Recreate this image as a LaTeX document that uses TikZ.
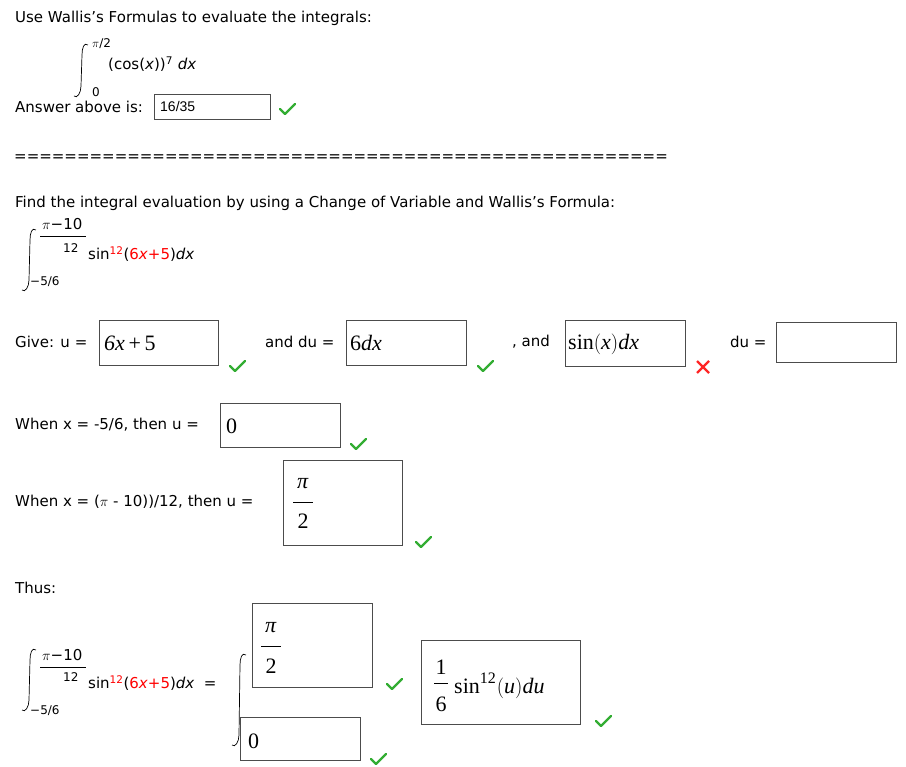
\documentclass[tikz,border=0pt]{standalone}
\usepackage{fontspec}
\setmainfont{DejaVu Sans}
\newfontfamily\serif{Liberation Serif}
\newfontfamily\boxfont{Liberation Sans}
\begin{document}
\begin{tikzpicture}[x=1pt,y=-1pt,
  txt/.style={anchor=west,inner sep=0,font=\fontsize{15}{17}\selectfont},
  sm/.style={anchor=west,inner sep=0,font=\fontsize{12}{14}\selectfont},
  ansbox/.style={draw=black!70,line width=0.8pt},
  big/.style={inner sep=0,font=\fontsize{22}{24}\selectfont\serif},
  chk/.style={draw=green!60!black!80,line width=2.2pt,line cap=round,line join=round},
  intg/.style={line width=0.7pt}]
\useasboundingbox (0,0) rectangle (906,767);
\fill[white] (0,0) rectangle (906,767);
\newcommand\chkmark[2]{\draw[chk] (#1-7,#2-1) -- (#1-2,#2+4) -- (#1+8,#2-6);}
\newcommand\intsign[3]{\draw[intg] (#1+8,#2) .. controls (#1+4,#2-3) and (#1+2,#2+3) .. (#1+2,#2+10) -- (#1+1,#3-10) .. controls (#1+1,#3-3) and (#1-3,#3+3) .. (#1-6,#3);}
% part 1
\node[txt] (t1) at (15,18) {Use Wallis's Formulas to evaluate the integrals:};
\intsign{80}{45}{96}
\node[sm] (l1) at (92,44) {$\pi$/2};
\node[sm] (l2) at (92,92) {0};
\node[txt] (f1) at (108,64) {(cos(\textit{x}))\textsuperscript{7} \textit{dx}};
\node[txt] (a1) at (15,107) {Answer above is:};
\draw[ansbox] (154,94) rectangle (270,119);
\node[txt,font=\fontsize{14}{16}\selectfont\boxfont] (a1v) at (160,106) {16/35};
\chkmark{287}{110}
\node[txt] (eq) at (14,158) {====================================================};
% part 2
\node[txt] (t2) at (15,203) {Find the integral evaluation by using a Change of Variable and Wallis's Formula:};
\intsign{28}{230}{290}
\node[txt] (n1) at (42,224) {$\pi$−10};
\draw (40,236) -- (86,236);
\node[sm] (d1) at (63,248) {12};
\node[sm] (lw1) at (30,282) {−5/6};
\node[txt] (s1) at (88,254) {sin\textsuperscript{\textcolor{red}{12}}(\textcolor{red}{6\textit{x}+5})\textit{dx}};
\node[txt] (g) at (15,342) {Give: u =};
\draw[ansbox] (99,320) rectangle (218,365);
\node[big,anchor=west] (v1) at (104,343) {\textit{6x}\,+\,5};
\chkmark{237}{367}
\node[txt] (g2) at (265,342) {and du =};
\draw[ansbox] (346,320) rectangle (466,365);
\node[big,anchor=west] (v2) at (350,343) {6\textit{dx}};
\chkmark{485}{367}
\node[txt] (g3) at (512,342) {, and};
\draw[ansbox] (565,320) rectangle (685,366);
\node[big,anchor=west] (v3) at (568,344) {sin\big(\textit{x}\big)\textit{dx}};
\draw[red!85,line width=2.2pt] (697,361) -- (709,373) (709,361) -- (697,373);
\node[txt] (g4) at (730,342) {du =};
\draw[ansbox] (776,322) rectangle (896,362);
% when
\node[txt] (w1) at (15,425) {When x = -5/6, then u =};
\draw[ansbox] (220,403) rectangle (340,447);
\node[big,anchor=west] (v4) at (226,426) {0};
\chkmark{358}{445}
\node[txt] (w2) at (15,502) {When x = ($\pi$ - 10))/12, then u =};
\draw[ansbox] (283,460) rectangle (402,545);
\node[big] (p1) at (303,484) {\textit{π}};
\draw (293,502) -- (313,502);
\node[big] (p2) at (303,521) {2};
\chkmark{423}{543}
% thus
\node[txt] (th) at (15,588) {Thus:};
\intsign{28}{650}{710}
\node[txt] (n2) at (42,655) {$\pi$−10};
\draw (40,667) -- (86,667);
\node[sm] (d2) at (63,677) {12};
\node[sm] (lw2) at (30,711) {−5/6};
\node[txt] (s2) at (88,683) {sin\textsuperscript{\textcolor{red}{12}}(\textcolor{red}{6\textit{x}+5})\textit{dx}\ \ =};
\intsign{238}{655}{745}
\draw[ansbox] (252,603) rectangle (372,687);
\node[big] (p3) at (271,628) {\textit{π}};
\draw (261,646) -- (281,646);
\node[big] (p4) at (271,666) {2};
\chkmark{394}{685}
\draw[ansbox] (240,717) rectangle (360,760);
\node[big,anchor=west] (v5) at (248,741) {0};
\chkmark{378}{760}
\draw[ansbox] (421,640) rectangle (580,724);
\node[big] (q1) at (441,667) {1};
\draw (434,683) -- (448,683);
\node[big] (q2) at (441,704) {6};
\node[big,anchor=west] (q3) at (454,686) {sin\raisebox{10pt}{\fontsize{16}{17}\selectfont 12}\kern1pt\Big(\textit{u}\Big)\textit{du}};
\chkmark{603}{722}
\end{tikzpicture}
\end{document}
